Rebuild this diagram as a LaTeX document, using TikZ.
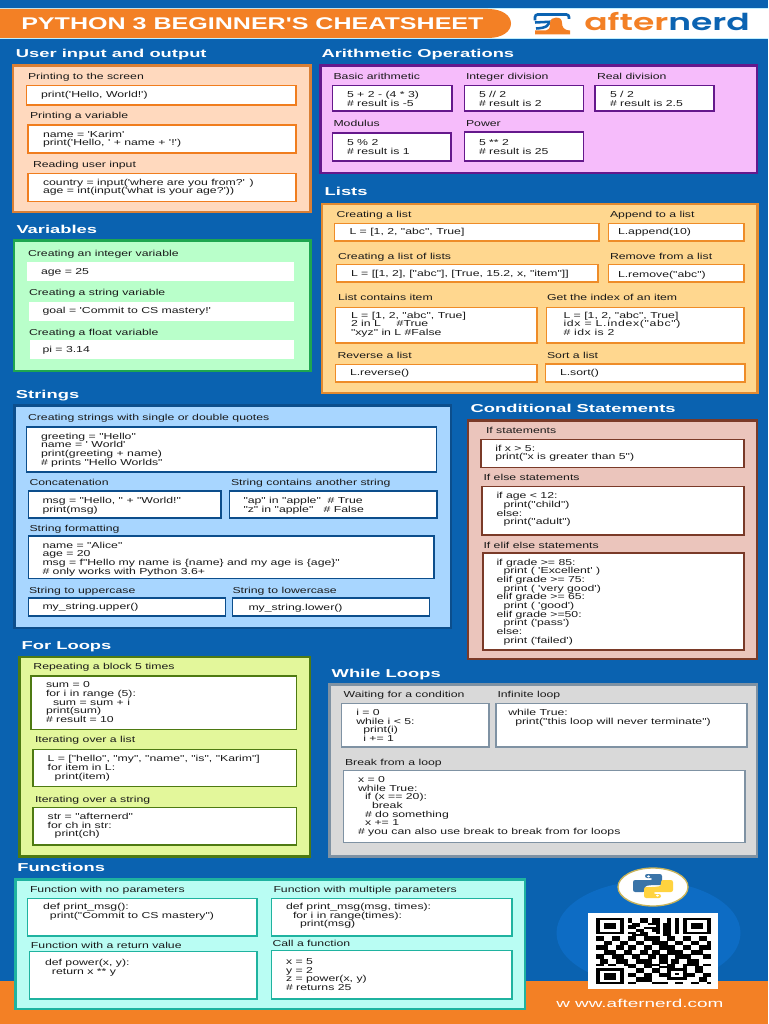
\documentclass[tikz,border=0pt]{standalone}
\usepackage{fontspec}
\newfontfamily\cdfam{Liberation Sans}[FakeStretch=1.415]
\newfontfamily\hdfam{Liberation Sans Bold}[FakeStretch=1.6]
\newfontfamily\ttlfam{Liberation Sans Bold}[FakeStretch=1.48]
\newfontfamily\logofam{Poppins SemiBold}[FakeStretch=1.48]
\newfontfamily\urlfam{Liberation Sans}[FakeStretch=1.65]
\definecolor{bgblue}{HTML}{0A62B0}
\definecolor{banorange}{HTML}{F38025}
\definecolor{halo}{HTML}{0D6CC4}
\definecolor{uifill}{HTML}{FFD9BE}\definecolor{uiline}{HTML}{D97F35}\definecolor{uibox}{HTML}{F07D1E}
\definecolor{arfill}{HTML}{F6BCFB}\definecolor{arline}{HTML}{65188C}
\definecolor{lifill}{HTML}{FFD78F}\definecolor{liline}{HTML}{E28A30}\definecolor{libox}{HTML}{EE8C28}
\definecolor{vafill}{HTML}{B9FFCA}\definecolor{valine}{HTML}{1EA650}
\definecolor{stfill}{HTML}{A8D6FF}\definecolor{stline}{HTML}{0C4E8C}
\definecolor{cofill}{HTML}{EBC5BC}\definecolor{coline}{HTML}{7A3A28}
\definecolor{fofill}{HTML}{E3F79B}\definecolor{foline}{HTML}{4E7A12}
\definecolor{whfill}{HTML}{D9D9D9}\definecolor{whline}{HTML}{7F92A3}
\definecolor{fnfill}{HTML}{B9FDF3}\definecolor{fnline}{HTML}{1FB3A0}
\definecolor{txt}{HTML}{1A1A1A}
\definecolor{pyblue}{HTML}{3A74A8}\definecolor{pyyellow}{HTML}{FFD33F}
\definecolor{pygold}{HTML}{C9B45A}
\definecolor{logoblue}{HTML}{0B63B2}
\tikzset{
  panelbox/.style={line width=1.6pt,line join=miter},
  codebox/.style={fill=white,line width=1.4pt,line join=miter},
  plainbox/.style={fill=white},
  cdtext/.style={anchor=north west,inner sep=0pt,outer sep=0pt,text=txt,align=left,
    font={\cdfam\fontsize{6.5}{6.5}\selectfont\lineskiplimit=-6pt\relax}},
  heading/.style={anchor=base west,inner sep=0pt,outer sep=0pt,text=white,
    font={\hdfam\fontsize{8.6}{10}\selectfont}},
}
\newcounter{nn}
% text block: x, baseline of first line, lines
\newcommand{\tx}[3]{\stepcounter{nn}\node[cdtext] (t\arabic{nn}) at (#1,#2-6.83) {\rule{0pt}{5.5pt}#3};}
\newcommand{\hd}[3]{\stepcounter{nn}\node[heading] (h\arabic{nn}) at (#1,#2) {#3};}
\newcommand{\pnl}[6]{\draw[panelbox,fill=#5,draw=#6] (#1,#2) rectangle (#3,#4);}
\newcommand{\cbx}[5]{\draw[codebox,draw=#5] (#1,#2) rectangle (#3,#4);}
\newcommand{\I}{\hspace*{5.25pt}}
% QR helper
\newcount\qrcol
\def\qrrow#1#2{\qrcol=0 \qrscan{#1}#2.}
\def\qrscan#1#2{\ifx#2.\let\qrnext\relax\else
  \ifx#21\fill[black] ({596+\the\qrcol*3.97-0.05},{918+#1*2.28-0.05}) rectangle ++(4.07,2.38);\fi
  \advance\qrcol by 1 \def\qrnext{\qrscan{#1}}\fi\qrnext}
\newcommand{\snake}[2]{%
 \fill[#2,rounded corners=1.6pt,#1] (-8,-12) -- (9,-12) -- (9,-1) -- (-1,-1) -- (-8,0) -- (-8,6) -- (-20,6) -- (-20,-6) -- (-0.5,-6) -- (-0.5,-8) -- (-8,-8) -- cycle;
 \fill[white,#1] (-4.5,-9.6) ellipse (1.6 and 1.1);}
\begin{document}
\begin{tikzpicture}[x=0.75pt,y=-0.75pt]
\useasboundingbox (0,0) rectangle (768,1024);
\fill[bgblue] (0,0) rectangle (768,1024);
% footer band
\fill[banorange] (0,981) rectangle (768,1024);
% banner
\fill[white] (0,9) rectangle (768,38);
\draw[color=blue!25!cyan!25,line width=0.7pt] (0,8.7) -- (768,8.7) (0,38.3) -- (768,38.3);
\fill[banorange] (0,9) -- (488,9) .. controls (503,9) and (511,16) .. (511,23.5) .. controls (511,31) and (503,38) .. (488,38) -- (0,38) -- cycle;
\node[anchor=base west,inner sep=0pt,text=white,font={\ttlfam\fontsize{12.7}{14}\selectfont}] (title) at (21,30) {PYTHON 3 BEGINNER'S CHEATSHEET};
% logo icon
\draw[logoblue,line width=2pt,rounded corners=2pt] (535,20.5) -- (535,14.5) -- (569,14.5) -- (569,19);
\draw[logoblue,line width=1.9pt] (535,22.5) -- (549,21.8) .. controls (549,25) and (547,28) .. (536,28.5);
\fill[banorange] (535,30.5) -- (546,30.5) .. controls (549,30.5) and (550,28) .. (550,23) .. controls (550,19) and (553,17.6) .. (556,17.6) .. controls (560,17.6) and (562,19) .. (562,23) .. controls (562,27) and (564,30.5) .. (570,30.5) -- (570,34.5) -- (535,34.5) -- cycle;
\node[anchor=base west,inner sep=0pt,font={\logofam\fontsize{17.5}{20}\selectfont}] (logo) at (584,31) {\textcolor{banorange}{after}\textcolor{logoblue}{nerd}};

% ---------- headings
\hd{16}{58}{User input and output}
\hd{321.5}{58}{Arithmetic Operations}
\hd{324.7}{195.5}{Lists}
\hd{16.5}{233}{Variables}
\hd{16}{398}{Strings}
\hd{470.7}{412.5}{Conditional Statements}
\hd{21.7}{649}{For Loops}
\hd{331.7}{677.3}{While Loops}
\hd{17.3}{871.3}{Functions}

% ---------- user input
\pnl{13}{65.5}{310.5}{212}{uifill}{uiline}
\cbx{26.5}{85.5}{296}{105}{uibox}
\cbx{28}{125}{296}{153}{uibox}
\cbx{28}{173.5}{296}{201.5}{uibox}
\tx{28}{79.3}{Printing to the screen}
\tx{41}{97.3}{print('Hello, World!')}
\tx{30}{118.3}{Printing a variable}
\tx{43}{136.6}{name = 'Karim'\\print('Hello, ' + name + '!')}
\tx{33}{166.7}{Reading user input}
\tx{43}{184.6}{country = input('where are you from?' )\\age = int(input('what is your age?'))}

% ---------- arithmetic
\pnl{320.5}{65.5}{757}{173}{arfill}{arline}
\cbx{332.5}{85.5}{452}{111}{arline}
\cbx{464.5}{85.5}{583.5}{111}{arline}
\cbx{595}{85.5}{714}{111}{arline}
\cbx{332.5}{133}{451}{161}{arline}
\cbx{464.5}{132}{583.5}{161}{arline}
\tx{333.5}{79}{Basic arithmetic}
\tx{466}{79}{Integer division}
\tx{597}{79}{Real division}
\tx{333.5}{126}{Modulus}
\tx{466}{126}{Power}
\tx{347}{97}{5 + 2 - (4 * 3)\\\# result is -5}
\tx{479}{97}{5 // 2\\\# result is 2}
\tx{610}{97}{5 / 2\\\# result is 2.5}
\tx{347}{145}{5 \% 2\\\# result is 1}
\tx{479}{145}{5 ** 2\\\# result is 25}

% ---------- lists
\pnl{322}{204}{757.5}{393}{lifill}{liline}
\cbx{334.5}{223.5}{599}{241}{libox}
\cbx{608.5}{223.5}{744}{241}{libox}
\cbx{336.5}{264.5}{598}{282}{libox}
\cbx{608.5}{264.5}{744}{282}{libox}
\cbx{335.5}{307.5}{537}{343}{libox}
\cbx{546.5}{307.5}{744}{343}{libox}
\cbx{335.5}{364.5}{537}{382}{libox}
\cbx{545.5}{364}{745}{382}{libox}
\tx{336.5}{217}{Creating a list}
\tx{349.5}{234}{L = [1, 2, "abc", True]}
\tx{610}{217}{Append to a list}
\tx{618}{234}{L.append(10)}
\tx{338}{258.5}{Creating a list of lists}
\tx{351}{276}{L = [[1, 2], ["abc"], [True, 15.2, x, "item"]]}
\tx{610}{258.5}{Remove from a list}
\tx{618}{276.5}{L.remove("abc")}
\tx{338}{299.5}{List contains item}
\tx{351}{317.5}{L = [1, 2, "abc", True]\\2 in L\hspace{11.8pt}\#True\\"xyz" in L \#False}
\tx{547}{299.5}{Get the index of an item}
\tx{563.5}{317.5}{L = [1, 2, "abc", True]\\{\addfontfeature{LetterSpace=7.5}idx = L.index("abc")}\\{\addfontfeature{LetterSpace=5}\# idx is 2}}
\tx{337.5}{358}{Reverse a list}
\tx{350}{375}{L.reverse()}
\tx{547}{358}{Sort a list}
\tx{560}{375}{L.sort()}

% ---------- variables
\pnl{14}{240.5}{310.5}{371}{vafill}{valine}
\fill[plainbox] (27,262) rectangle (294,281);
\fill[plainbox] (29,302) rectangle (294,321);
\fill[plainbox] (30,340) rectangle (294,359);
\tx{28}{255.5}{Creating an integer variable}
\tx{41}{274}{age = 25}
\tx{29}{295}{Creating a string variable}
\tx{42.5}{313}{goal = 'Commit to CS mastery!'}
\tx{29}{335}{Creating a float variable}
\tx{42.5}{352}{pi = 3.14}

% ---------- strings
\pnl{14.5}{405.5}{451}{628}{stfill}{stline}
\cbx{26.5}{427}{436.5}{472}{stline}
\cbx{28.5}{491}{221}{518}{stline}
\cbx{229.5}{491}{437}{518}{stline}
\cbx{28.5}{536}{434}{578.5}{stline}
\cbx{28.5}{598}{225.5}{616}{stline}
\cbx{232.5}{598}{429.5}{616}{stline}
\tx{28}{420}{Creating strings with single or double quotes}
\tx{41}{438.5}{greeting = "Hello"\\name = ' World'\\print(greeting + name)\\\# prints "Hello Worlds"}
\tx{29.5}{485}{Concatenation}
\tx{42.5}{503}{msg = "Hello, " + "World!"\\print(msg)}
\tx{231}{485}{String contains another string}
\tx{243.5}{503}{"ap" in "apple"\ \ \# True\\"z" in "apple"\ \ \ \# False}
\tx{29.5}{531}{String formatting}
\tx{42.5}{547.7}{name = "Alice"\\age = 20\\msg = f"Hello my name is \{name\} and my age is \{age\}"\\\# only works with Python 3.6+}
\tx{29}{592.5}{String to uppercase}
\tx{42.5}{609}{my\_string.upper()}
\tx{232.5}{593}{String to lowercase}
\tx{248.5}{609.7}{my\_string.lower()}

% ---------- conditional
\pnl{468}{420.5}{756.7}{659}{cofill}{coline}
\cbx{481}{439.5}{744}{467.5}{coline}
\cbx{482}{486.5}{744}{535}{coline}
\cbx{483}{553}{744}{650}{coline}
\tx{486}{432.7}{If statements}
\tx{495.3}{450.7}{if x > 5:\\print("x is greater than 5")}
\tx{483.5}{480}{If else statements}
\tx{496.5}{498.3}{if age < 12:\\\I print("child")\\else:\\\I print("adult")}
\tx{483.5}{547.7}{If elif else statements}
\tx{496.5}{564.7}{if grade >= 85:\\\I print ( 'Excellent' )\\elif grade >= 75:\\\I print ( 'very good')\\elif grade >= 65:\\\I print ( 'good')\\elif grade >=50:\\\I print ('pass')\\else:\\\I print ('failed')}

% ---------- for loops
\pnl{19.5}{657}{310}{856.5}{fofill}{foline}
\cbx{31}{676}{296.5}{729.5}{foline}
\cbx{33}{749.5}{296.5}{786.5}{foline}
\cbx{33}{807.5}{296.5}{845}{foline}
\tx{33.5}{669}{Repeating a block 5 times}
\tx{46}{687.3}{sum = 0\\for i in range (5):\\\I sum = sum + i\\print(sum)\\\# result = 10}
\tx{35}{742.3}{Iterating over a list}
\tx{47.7}{761.3}{L = ["hello", "my", "name", "is", "Karim"]\\for item in L:\\\I print(item)}
\tx{35}{802}{Iterating over a string}
\tx{47.7}{819}{str = "afternerd"\\for ch in str:\\\I print(ch)}

% ---------- while loops
\pnl{329.5}{684.5}{757.3}{856.5}{whfill}{whline}
\cbx{341.5}{703.5}{489.3}{747.3}{whline}
\cbx{496}{703.5}{747.3}{747.3}{whline}
\cbx{343.5}{770.5}{745.3}{842.5}{whline}
\tx{343.7}{697.3}{Waiting for a condition}
\tx{356.3}{715}{i = 0\\while i < 5:\\\I print(i)\\\I i += 1}
\tx{497.5}{697.3}{Infinite loop}
\tx{508.3}{715.3}{while True:\\\I print("this loop will never terminate")}
\tx{345}{765}{Break from a loop}
\tx{358}{782}{x = 0\\while True:\\\I if (x == 20):\\\I\I break\\\I \# do something\\\I x += 1\\\# you can also use break to break from for loops}

% ---------- functions
\pnl{15.5}{879.5}{525}{1009}{fnfill}{fnline}
\cbx{27.5}{898.5}{257}{936}{fnline}
\cbx{271.5}{898.5}{512}{936}{fnline}
\cbx{29.5}{951.5}{257}{999}{fnline}
\cbx{271.5}{950.5}{512}{999}{fnline}
\tx{30}{892}{Function with no parameters}
\tx{43}{909}{def print\_msg():\\\I print("Commit to CS mastery")}
\tx{273.5}{892}{Function with multiple parameters}
\tx{286}{909}{def print\_msg(msg, times):\\\I for i in range(times):\\\I\I print(msg)}
\tx{31}{948}{Function with a return value}
\tx{45}{965}{def power(x, y):\\\I return x ** y}
\tx{272.5}{946}{Call a function}
\tx{286}{964}{x = 5\\y = 2\\z = power(x, y)\\\# returns 25}

% ---------- bottom right
\begin{scope}
\clip (540,860) rectangle (768,981);
\fill[halo] (648.5,933) ellipse (92 and 52);
\end{scope}
\draw[fill=white,draw=pygold,line width=1pt] (653,887) ellipse (35 and 19);
\begin{scope}[shift={(653,886)}]
\snake{xscale=1}{pyblue}
\snake{xscale=-1,yscale=-1}{pyyellow}
\end{scope}
\fill[white] (588,913) rectangle (718,989);
\qrrow{0}{11111110100110110010101111111}
\qrrow{1}{10000010100110110010101000001}
\qrrow{2}{10111010011001110110101011101}
\qrrow{3}{10111010111000010110101011101}
\qrrow{4}{10111010110011110110101011101}
\qrrow{5}{10000010001100110110101000001}
\qrrow{6}{11111110110110010110101111111}
\qrrow{7}{00000000011110000110000000000}
\qrrow{8}{11001100110011110011001100110}
\qrrow{9}{11001100110011110011001100110}
\qrrow{10}{00110011001100111100110011001}
\qrrow{11}{00110011001100111100110011001}
\qrrow{12}{11100110110011001111001100111}
\qrrow{13}{11100110110011001111001100111}
\qrrow{14}{00111001100110110011110011100}
\qrrow{15}{00111001100110110011110011100}
\qrrow{16}{11001110011001101100111100011}
\qrrow{17}{11001110011001101100111100011}
\qrrow{18}{01100111001111001101100111000}
\qrrow{19}{01100111001111001101100111000}
\qrrow{20}{11011001110011110011001111011}
\qrrow{21}{00000000110011001111001001100}
\qrrow{22}{11111110001100110011111001100}
\qrrow{23}{10000010001100110010001001100}
\qrrow{24}{10111010110011001110101110011}
\qrrow{25}{10111010110011001110001110011}
\qrrow{26}{10111010001111000011111000110}
\qrrow{27}{10000010001111000000000000110}
\qrrow{28}{11111110110000111100110011001}
\node[anchor=base west,inner sep=0pt,text=white,font={\urlfam\fontsize{8.6}{10}\selectfont}] (url) at (556,1007) {w ww.afternerd.com};
\end{tikzpicture}
\end{document}
